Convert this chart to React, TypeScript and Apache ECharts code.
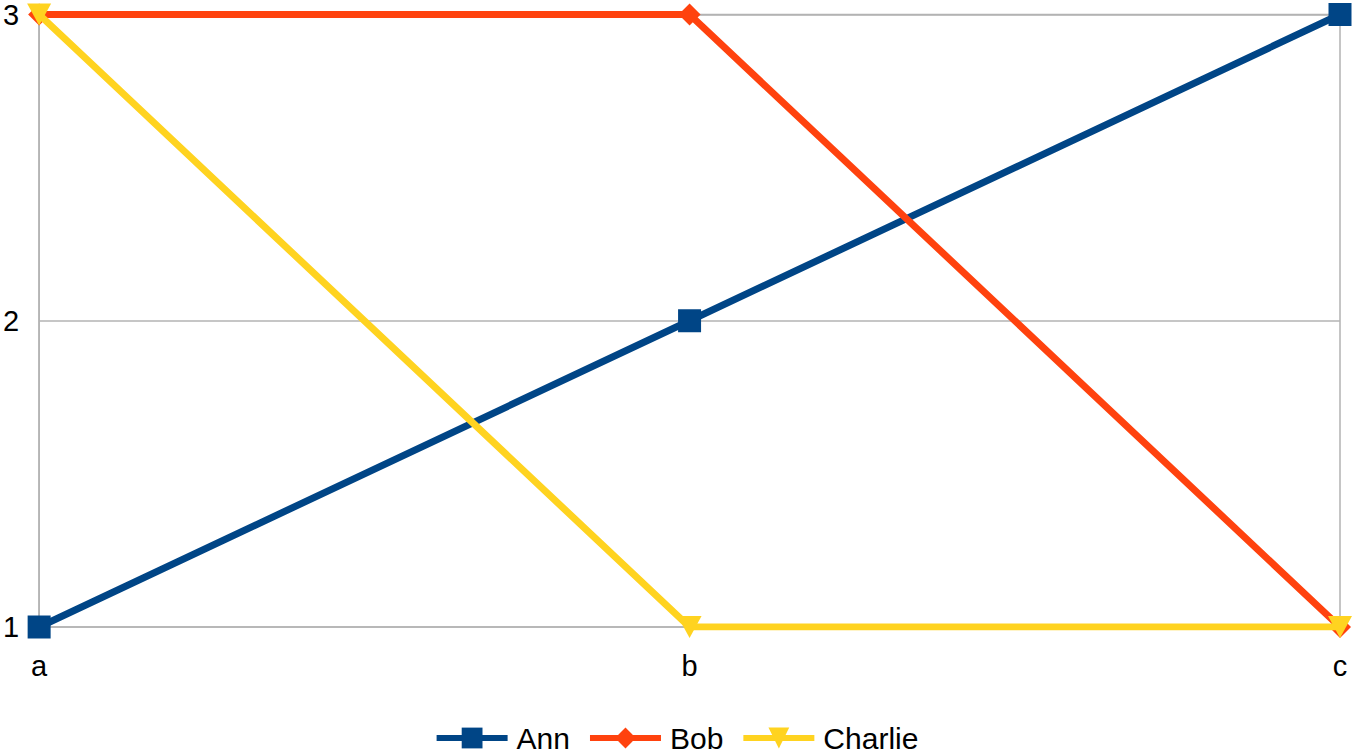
import React, { useEffect, useRef } from "react";
import * as echarts from "echarts";

const categories = ["a", "b", "c"];
const annValues = [1, 2, 3];
const bobValues = [3, 3, 1];
const charlieValues = [3, 1, 1];
const seriesNames = ["Ann", "Bob", "Charlie"];
const colors = ["#004586", "#ff420e", "#ffd320"];

export default function App() {
  const ref = useRef<HTMLDivElement>(null);
  useEffect(() => {
    document.body.style.margin = "0";
    const chart = echarts.init(ref.current!, null, { renderer: "svg" });
    const font = "'Liberation Sans', Arial, sans-serif";
    chart.setOption({
      animation: false,
      color: colors,
      textStyle: { fontFamily: font },
      grid: {
        left: 38,
        right: 12,
        top: 12,
        bottom: 126,
        show: true,
        borderColor: "#b3b3b3",
        borderWidth: 1.5,
      },
      legend: {
        bottom: -5,
        left: "center",
        itemWidth: 71,
        itemHeight: 26,
        itemGap: 17,
        lineStyle: { width: 6 },
        textStyle: { fontSize: 30, color: "#000", fontFamily: font, padding: [0, 0, 0, 4] },
        data: seriesNames,
      },
      xAxis: {
        type: "category",
        data: categories,
        boundaryGap: false,
        axisLine: { show: false },
        axisTick: { show: false },
        splitLine: { show: false },
        axisLabel: { fontSize: 29, color: "#000", margin: 24, fontFamily: font },
      },
      yAxis: {
        type: "value",
        min: 1,
        max: 3,
        interval: 1,
        axisLine: { show: true, lineStyle: { color: "#b3b3b3", width: 1.5 } },
        axisTick: { show: false },
        splitLine: { show: true, lineStyle: { color: "#b3b3b3", width: 1.5 } },
        axisLabel: { fontSize: 29, color: "#000", margin: 20, fontFamily: font },
      },
      series: [
        {
          name: seriesNames[0],
          type: "line",
          data: annValues,
          symbol: "rect",
          symbolSize: 23,
          lineStyle: { width: 7, color: colors[0] },
          itemStyle: { color: colors[0] },
          z: 3,
        },
        {
          name: seriesNames[1],
          type: "line",
          data: bobValues,
          symbol: "diamond",
          symbolSize: 22,
          lineStyle: { width: 7, color: colors[1] },
          itemStyle: { color: colors[1] },
          z: 4,
        },
        {
          name: seriesNames[2],
          type: "line",
          data: charlieValues,
          symbol: "triangle",
          symbolRotate: 180,
          symbolSize: [24, 22],
          lineStyle: { width: 7, color: colors[2] },
          itemStyle: { color: colors[2] },
          z: 5,
        },
      ],
    });
    return () => chart.dispose();
  }, []);
  return <div ref={ref} style={{ width: 1352, height: 753 }} />;
}
